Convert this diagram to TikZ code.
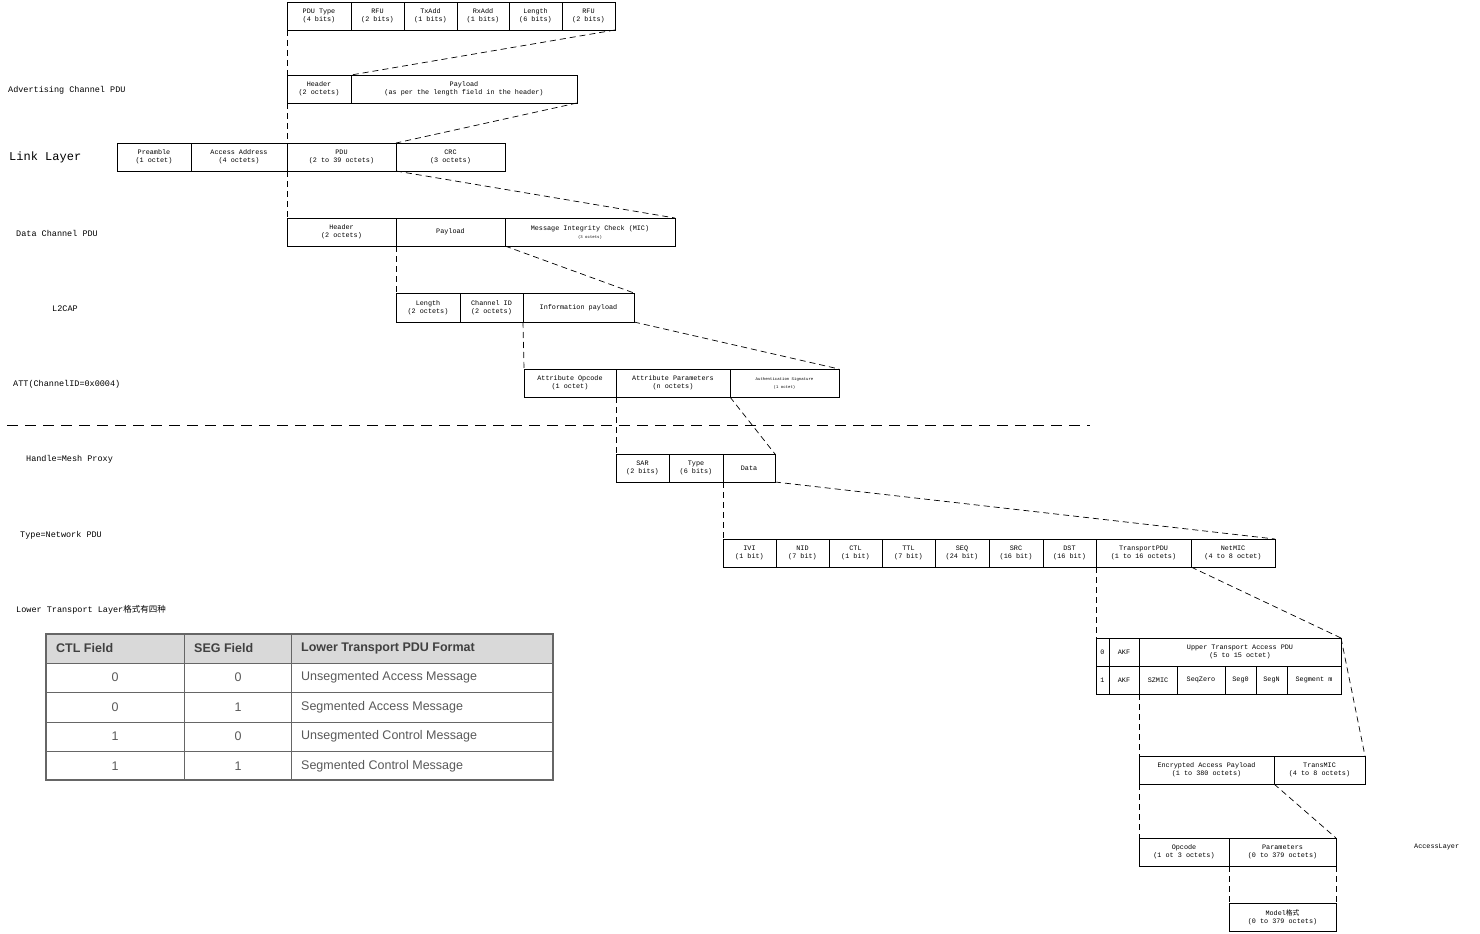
\documentclass[tikz,border=0pt]{standalone}
\usepackage{fontspec}
\setmainfont{Liberation Mono}
\newfontfamily\cjk{Noto Sans CJK SC}
\newfontfamily\tabfont{Liberation Sans}
\begin{document}
\begin{tikzpicture}[x=1pt,y=-1pt,
  fld/.style={draw,line width=0.7pt,inner sep=0pt,outer sep=0pt,font=\fontsize{6.8}{8}\selectfont,align=center},
  dl/.style={dash pattern=on 6pt off 4pt,line width=0.7pt},
  lab/.style={anchor=west,inner sep=0pt,font=\fontsize{8.5}{10}\selectfont},
  tc/.style={inner sep=0pt,font=\tabfont\fontsize{12.5}{14}\selectfont,text=black!65},
  th/.style={inner sep=0pt,font=\tabfont\bfseries\fontsize{12.5}{14}\selectfont,text=black!75}]
\useasboundingbox (0,0) rectangle (1480,934);
\newcommand\fld[6]{\node[fld,minimum width={#3-#2},minimum height={#5-#4},anchor=north west] (#1) at (#2,#4) {#6};}
\newcommand\sm[1]{{\fontsize{4}{5}\selectfont #1}}
% row1
\fld{a1}{287}{351}{2}{30}{PDU Type\\(4 bits)}
\fld{a2}{351}{404}{2}{30}{RFU\\(2 bits)}
\fld{a3}{404}{457}{2}{30}{TxAdd\\(1 bits)}
\fld{a4}{457}{509}{2}{30}{RxAdd\\(1 bits)}
\fld{a5}{509}{562}{2}{30}{Length\\(6 bits)}
\fld{a6}{562}{615}{2}{30}{RFU\\(2 bits)}
% row2
\fld{b1}{287}{351}{75}{103}{Header\\(2 octets)}
\fld{b2}{351}{577}{75}{103}{Payload\\(as per the length field in the header)}
% row3
\fld{c1}{117}{191}{143}{171}{Preamble\\(1 octet)}
\fld{c2}{191}{287}{143}{171}{Access Address\\(4 octets)}
\fld{c3}{287}{396}{143}{171}{PDU\\(2 to 39 octets)}
\fld{c4}{396}{505}{143}{171}{CRC\\(3 octets)}
% row4
\fld{d1}{287}{396}{218}{246}{Header\\(2 octets)}
\fld{d2}{396}{505}{218}{246}{Payload}
\fld{d3}{505}{675}{218}{246}{Message Integrity Check (MIC)\\\sm{(3 octets)}}
% row5
\fld{e1}{396}{460}{293}{322}{Length\\(2 octets)}
\fld{e2}{460}{523}{293}{322}{Channel ID\\(2 octets)}
\fld{e3}{523}{634}{293}{322}{Information payload}
% row6
\fld{f1}{524}{616}{369}{397}{Attribute Opcode\\(1 octet)}
\fld{f2}{616}{730}{369}{397}{Attribute Parameters\\(n octets)}
\fld{f3}{730}{839}{369}{397}{\sm{Authentication Signature}\\\sm{(1 octet)}}
% row7
\fld{g1}{616}{669}{454}{482}{SAR\\(2 bits)}
\fld{g2}{669}{723}{454}{482}{Type\\(6 bits)}
\fld{g3}{723}{775}{454}{482}{Data}
% row8
\fld{h1}{723}{776}{539}{567}{IVI\\(1 bit)}
\fld{h2}{776}{829}{539}{567}{NID\\(7 bit)}
\fld{h3}{829}{882}{539}{567}{CTL\\(1 bit)}
\fld{h4}{882}{935}{539}{567}{TTL\\(7 bit)}
\fld{h5}{935}{989}{539}{567}{SEQ\\(24 bit)}
\fld{h6}{989}{1043}{539}{567}{SRC\\(16 bit)}
\fld{h7}{1043}{1096}{539}{567}{DST\\(16 bit)}
\fld{h8}{1096}{1191}{539}{567}{TransportPDU\\(1 to 16 octets)}
\fld{h9}{1191}{1275}{539}{567}{NetMIC\\(4 to 8 octet)}
% row9
\fld{i1}{1096}{1109}{638}{666}{0}
\fld{i2}{1109}{1139}{638}{666}{AKF}
\fld{i3}{1139}{1341}{638}{666}{Upper Transport Access PDU\\(5 to 15 octet)}
\fld{j1}{1096}{1109}{666}{694}{1}
\fld{j2}{1109}{1139}{666}{694}{AKF}
\fld{j3}{1139}{1177}{666}{694}{SZMIC}
\fld{j4}{1177}{1225}{666}{694}{SeqZero}
\fld{j5}{1225}{1256}{666}{694}{Seg0}
\fld{j6}{1256}{1287}{666}{694}{SegN}
\fld{j7}{1287}{1341}{666}{694}{Segment m}
% row10
\fld{k1}{1139}{1274}{756}{784}{Encrypted Access Payload\\(1 to 380 octets)}
\fld{k2}{1274}{1365}{756}{784}{TransMIC\\(4 to 8 octets)}
% row11
\fld{l1}{1139}{1229}{838}{866}{Opcode\\(1 ot 3 octets)}
\fld{l2}{1229}{1336}{838}{866}{Parameters\\(0 to 379 octets)}
\fld{m1}{1229}{1336}{903}{931}{Model{\cjk 格式}\\(0 to 379 octets)}
\node[lab,font=\fontsize{6.8}{8}\selectfont] (al) at (1414,847) {AccessLayer};
% connectors
\draw[dl] (a1.south west) -- (b1.north west);
\draw[dl] (a6.south east) -- (b2.north west);
\draw[dl] (b1.south west) -- (c3.north west);
\draw[dl] (b2.south east) -- (c4.north west);
\draw[dl] (c3.south west) -- (d1.north west);
\draw[dl] (c4.south west) -- (d3.north east);
\draw[dl] (d2.south west) -- (e1.north west);
\draw[dl] (d2.south east) -- (e3.north east);
\draw[dl] (e3.south west) -- (f1.north west);
\draw[dl] (e3.south east) -- (f3.north east);
\draw[dl] (f2.south west) -- (g1.north west);
\draw[dl] (f3.south west) -- (g3.north east);
\draw[dl] (g3.south west) -- (h1.north west);
\draw[dl] (g3.south east) -- (h9.north east);
\draw[dl] (h8.south west) -- (i1.north west);
\draw[dl] (h8.south east) -- (i3.north east);
\draw[dl] (j3.south west) -- (k1.north west);
\draw[dl] (i3.north east) -- (k2.north east);
\draw[dl] (k1.south west) -- (l1.north west);
\draw[dl] (k2.south west) -- (l2.north east);
\draw[dl] (l2.south west) -- (m1.north west);
\draw[dl] (l2.south east) -- (m1.north east);
% separator
\coordinate (s1) at (7,425); \coordinate (s2) at (1090,425);
\draw[dash pattern=on 11pt off 7pt,line width=0.8pt] (s1) -- (s2);
% labels
\node[lab] (t1) at (8,90) {Advertising Channel PDU};
\node[lab,font=\fontsize{12}{14}\selectfont] (t2) at (9,157) {Link Layer};
\node[lab] (t3) at (16,233) {Data Channel PDU};
\node[lab] (t4) at (52,309) {L2CAP};
\node[lab] (t5) at (13,384) {ATT(ChannelID=0x0004)};
\node[lab] (t6) at (26,459) {Handle=Mesh Proxy};
\node[lab] (t7) at (20,535) {Type=Network PDU};
\node[lab] (t8) at (16,610) {Lower Transport Layer{\cjk 格式有四种}};
% table
\fill[black!15] (46,634) rectangle (553,663);
\foreach \y in {663,692,722,751} \draw[black!60,line width=0.8pt] (46,\y) -- (553,\y);
\draw[black!60,line width=0.8pt] (184,634) -- (184,780) (291,634) -- (291,780);
\draw[black!60,line width=1.3pt] (46,634) rectangle (553,780);
\node[th,anchor=west] (th1) at (56,648) {CTL Field};
\node[th,anchor=west] (th2) at (194,648) {SEG Field};
\node[th,anchor=west] (th3) at (301,648) {Lower Transport PDU Format};
\node[tc] (r1a) at (115,677) {0}; \node[tc] (r1b) at (238,677) {0};
\node[tc,anchor=west] (r1c) at (301,677) {Unsegmented Access Message};
\node[tc] (r2a) at (115,707) {0}; \node[tc] (r2b) at (238,707) {1};
\node[tc,anchor=west] (r2c) at (301,707) {Segmented Access Message};
\node[tc] (r3a) at (115,736) {1}; \node[tc] (r3b) at (238,736) {0};
\node[tc,anchor=west] (r3c) at (301,736) {Unsegmented Control Message};
\node[tc] (r4a) at (115,766) {1}; \node[tc] (r4b) at (238,766) {1};
\node[tc,anchor=west] (r4c) at (301,766) {Segmented Control Message};
\end{tikzpicture}
\end{document}
